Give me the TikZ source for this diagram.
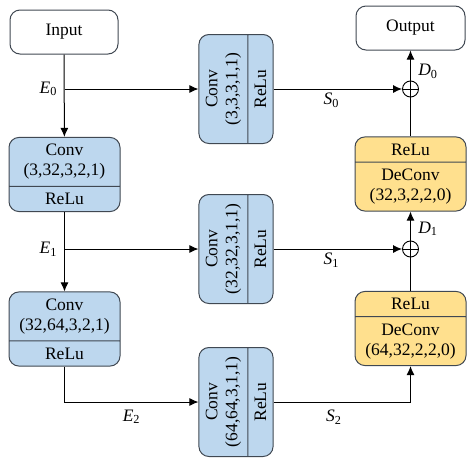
\documentclass[tikz,border=0pt]{standalone}
\usepackage{fontspec}
\setmainfont{Liberation Serif}
\usetikzlibrary{shapes.multipart,arrows.meta}
\definecolor{convblue}{RGB}{189,215,238}
\definecolor{deconvyellow}{RGB}{255,224,142}
\definecolor{boxline}{RGB}{64,72,82}
\newcommand{\sig}[2]{\textit{#1}\textsubscript{#2}}

\begin{document}
\begin{tikzpicture}[
        x=1pt, y=-1pt,
        every node/.style={font=\fontsize{17.5}{20}\selectfont},
        io/.style={rectangle,rounded corners=10pt,draw=boxline,line width=1pt,
                   minimum width=108pt,minimum height=44pt},
        block/.style={rectangle split,rectangle split parts=2,draw=boxline,line width=1pt,
                      rounded corners=10pt,minimum width=111pt,inner xsep=4pt,inner ysep=6.3pt,
                      align=center},
        conv/.style={block,fill=convblue},
        deconv/.style={block,fill=deconvyellow},
        sum/.style={circle,draw,line width=0.9pt,minimum size=16pt,inner sep=0pt,
                    path picture={\draw[line width=0.9pt]
                      (path picture bounding box.north) -- (path picture bounding box.south)
                      (path picture bounding box.west) -- (path picture bounding box.east);}},
        arr/.style={-{Latex[length=9pt,width=8pt]},line width=1pt}
      ]
      \useasboundingbox (0,0) rectangle (474,464);

      % Input and output
      \node (input) [io] at (64,32) {Input};
      \node (output) [io, minimum width=109pt] at (410.5,28) {Output};

      % Encoder column
      \node (conv1) [conv] at (64.5,174.5) {Conv\\(3,32,3,2,1) \nodepart{two} ReLu};
      \node (conv2) [conv] at (64.5,329) {Conv\\(32,64,3,2,1) \nodepart{two} ReLu};

      % Skip connections (turned on their side: north is the left edge)
      \node (skip0) [conv, rotate=90, minimum width=109pt] at (236,89) {Conv\\(3,3,3,1,1) \nodepart{two} ReLu};
      \node (skip1) [conv, rotate=90, minimum width=109pt] at (236,249) {Conv\\(32,32,3,1,1) \nodepart{two} ReLu};
      \node (skip2) [conv, rotate=90, minimum width=109pt] at (236,402) {Conv\\(64,64,3,1,1) \nodepart{two} ReLu};

      % Decoder column
      \node (deconv0) [deconv] at (410.5,174) {ReLu \nodepart{two} DeConv\\(32,3,2,2,0)};
      \node (deconv1) [deconv] at (410.5,328.5) {ReLu \nodepart{two} DeConv\\(64,32,2,2,0)};
      \node (sum0) [sum] at (410.5,89) {};
      \node (sum1) [sum] at (410.5,249) {};

      % Encoder path
      \draw[arr] (input) -- (conv1);
      \draw[arr] (conv1) -- (conv2);
      \draw[arr] (conv1.north |- skip0.north) coordinate (e0) -- (skip0.north);
      \node[left=4pt] at (e0) {\sig{E}{0}};
      \draw[arr] (conv2.north |- skip1.north) coordinate (e1) -- (skip1.north);
      \node[left=4pt] at (e1) {\sig{E}{1}};
      \draw[arr] (conv2.south) |- (skip2.north) node[pos=0.75, below=4pt] {\sig{E}{2}};

      % Skip outputs
      \draw[arr] (skip0.south) -- (sum0) node[pos=0.45, below] {\sig{S}{0}};
      \draw[arr] (skip1.south) -- (sum1) node[pos=0.45, below] {\sig{S}{1}};
      \draw[arr] (skip2.south) -| (deconv1.south) node[pos=0.22, below=4pt] {\sig{S}{2}};

      % Decoder path
      \draw[line width=1pt] (deconv1.north) -- (sum1);
      \draw[arr] (sum1) -- (deconv0.south) node[pos=0.4, right=4pt] {\sig{D}{1}};
      \draw[line width=1pt] (deconv0.north) -- (sum0);
      \draw[arr] (sum0) -- (output) node[pos=0.3, right=4pt] {\sig{D}{0}};
    \end{tikzpicture}
\end{document}
